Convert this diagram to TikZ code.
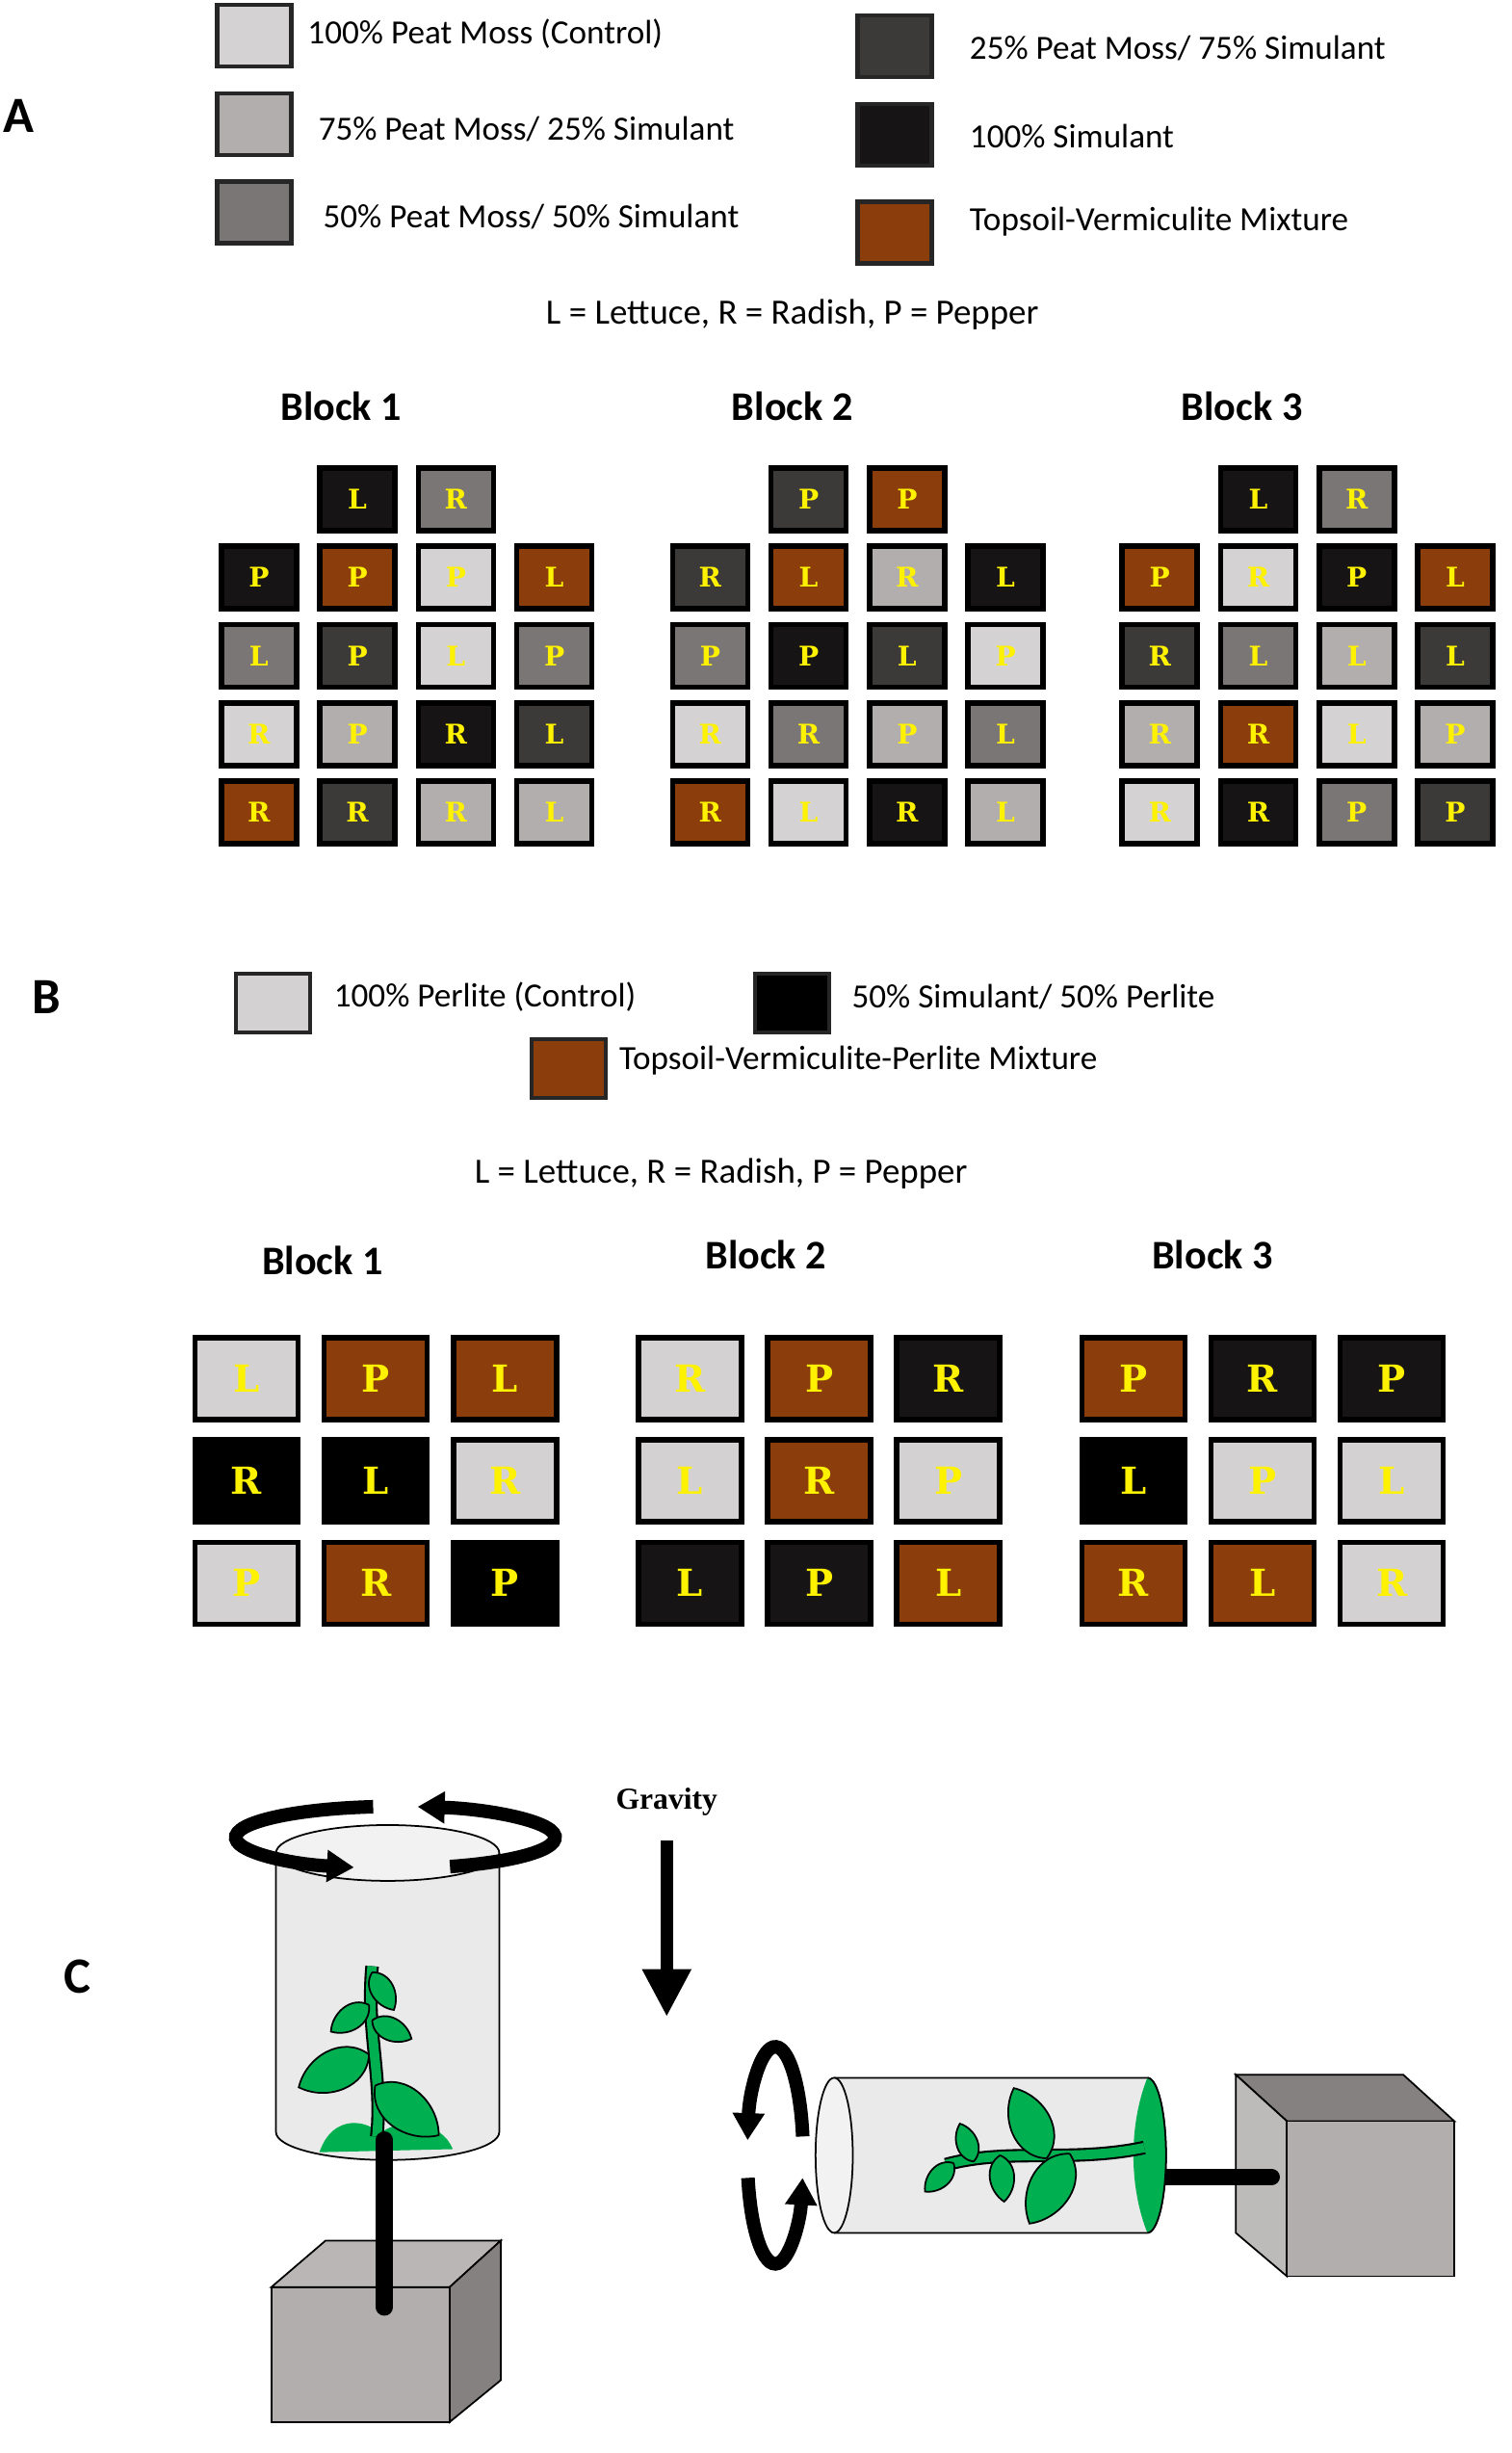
\documentclass[tikz,border=0pt]{standalone}
\usepackage{fontspec}
\setmainfont{Carlito}
\newfontfamily\cropfont{DejaVu Serif}
\newfontfamily\gravfont{Liberation Serif}
\usetikzlibrary{arrows.meta, positioning}

\definecolor{pmfull}{HTML}{D4D2D2}
\definecolor{pmthree}{HTML}{B2AEAE}
\definecolor{pmhalf}{HTML}{7B7676}
\definecolor{pmquart}{HTML}{3C3939}
\definecolor{simfull}{HTML}{161414}
\definecolor{topsoil}{HTML}{8B3D0B}
\definecolor{perlite}{HTML}{D3D1D1}
\definecolor{plantgreen}{HTML}{00B050}
\definecolor{tubegray}{HTML}{EBEAEA}

% leaf: base x, base y, direction, length
\newcommand\leafshape[4]{\draw[leaf, shift={(#1,#2)}, rotate=#3] (0,0) .. controls (0.2*#4,-0.38*#4) and (0.75*#4,-0.32*#4) .. (#4,0) .. controls (0.75*#4,0.32*#4) and (0.2*#4,0.38*#4) .. (0,0);}

\begin{document}
\begin{tikzpicture}[
            x = 0.0161cm, y = -0.0161cm, % displayed pixel units
            > = {Triangle[length=8pt, width=9pt]},
            swatch/.style = {draw = black!85, line width = 1.2pt, minimum width = 0.77cm, minimum height = 0.64cm, inner sep = 0pt},
            legtext/.style = {anchor = west, font = \fontsize{10}{12}\selectfont, inner sep = 0pt},
            blocktitle/.style = {font = \fontsize{12}{14}\bfseries},
            panel/.style = {font = \fontsize{15}{17}\bfseries},
            cellA/.style = {draw = black, line width = 1.6pt, minimum width = 0.78cm, minimum height = 0.65cm, inner sep = 0pt, text = yellow, font = \cropfont\bfseries\fontsize{8}{9}\selectfont},
            cellB/.style = {cellA, minimum width = 1.07cm, minimum height = 0.85cm, font = \cropfont\bfseries\fontsize{11}{12}\selectfont},
            leaf/.style = {fill = plantgreen, draw = black, line width = 0.5pt},
            ring/.style = {line width = 4pt, black}
        ]
        \useasboundingbox (0,0) rectangle (975,1582);

        % panel A legend
        \node[panel] (lblA) at (12,75) {A};
        \node[swatch, fill = pmfull] (sw1) at (164,23) {};
        \node[swatch, fill = pmthree] (sw2) at (164,80) {};
        \node[swatch, fill = pmhalf] (sw3) at (164,137) {};
        \node[swatch, fill = pmquart] (sw4) at (577,30) {};
        \node[swatch, fill = simfull] (sw5) at (577,87) {};
        \node[swatch, fill = topsoil] (sw6) at (577,150) {};
        \node[legtext] (lt1) at (198,22) {100\% Peat Moss (Control)};
        \node[legtext] (lt2) at (205,83) {75\% Peat Moss/ 25\% Simulant};
        \node[legtext] (lt3) at (208,140) {50\% Peat Moss/ 50\% Simulant};
        \node[legtext] (lt4) at (625,31) {25\% Peat Moss/ 75\% Simulant};
        \node[legtext] (lt5) at (625,88) {100\% Simulant};
        \node[legtext] (lt6) at (625,143) {Topsoil-Vermiculite Mixture};
        \node[font = \fontsize{10.5}{12}\selectfont] (keyA) at (511,203) {L = Lettuce, R = Radish, P = Pepper};

        % panel A blocks
        \foreach \b/\bx in {1/167, 2/458, 3/748}
            \node[blocktitle] (titleA\b) at (\bx+53,262) {Block \b};
        \foreach \b/\bx/\cells in {
            1/167/{1/0/simfull/L, 2/0/pmhalf/R,
                   0/1/simfull/P, 1/1/topsoil/P, 2/1/pmfull/P, 3/1/topsoil/L,
                   0/2/pmhalf/L, 1/2/pmquart/P, 2/2/pmfull/L, 3/2/pmhalf/P,
                   0/3/pmfull/R, 1/3/pmthree/P, 2/3/simfull/R, 3/3/pmquart/L,
                   0/4/topsoil/R, 1/4/pmquart/R, 2/4/pmthree/R, 3/4/pmthree/L},
            2/458/{1/0/pmquart/P, 2/0/topsoil/P,
                   0/1/pmquart/R, 1/1/topsoil/L, 2/1/pmthree/R, 3/1/simfull/L,
                   0/2/pmhalf/P, 1/2/simfull/P, 2/2/pmquart/L, 3/2/pmfull/P,
                   0/3/pmfull/R, 1/3/pmhalf/R, 2/3/pmthree/P, 3/3/pmhalf/L,
                   0/4/topsoil/R, 1/4/pmfull/L, 2/4/simfull/R, 3/4/pmthree/L},
            3/748/{1/0/simfull/L, 2/0/pmhalf/R,
                   0/1/topsoil/P, 1/1/pmfull/R, 2/1/simfull/P, 3/1/topsoil/L,
                   0/2/pmquart/R, 1/2/pmhalf/L, 2/2/pmthree/L, 3/2/pmquart/L,
                   0/3/pmthree/R, 1/3/topsoil/R, 2/3/pmfull/L, 3/3/pmthree/P,
                   0/4/pmfull/R, 1/4/simfull/R, 2/4/pmhalf/P, 3/4/pmquart/P}}
            \foreach \c/\r/\col/\crop in \cells
                \node[cellA, fill = \col] (a\b r\r c\c) at (\bx+63.5*\c, 322+50.5*\r) {\crop};

        % panel B legend
        \node[panel] (lblB) at (30,643) {B};
        \node[swatch, fill = perlite, minimum height = 0.61cm] (swB1) at (176,647) {};
        \node[swatch, fill = black, minimum height = 0.61cm] (swB2) at (511,647) {};
        \node[swatch, fill = topsoil, minimum height = 0.61cm] (swB3) at (367,689) {};
        \node[legtext] (ltB1) at (215,643) {100\% Perlite (Control)};
        \node[legtext] (ltB2) at (549,643) {50\% Simulant/ 50\% Perlite};
        \node[legtext] (ltB3) at (399,684) {Topsoil-Vermiculite-Perlite Mixture};
        \node[font = \fontsize{10.5}{12}\selectfont] (keyB) at (465,757) {L = Lettuce, R = Radish, P = Pepper};

        % panel B blocks
        \foreach \b/\tx/\ty in {1/208/813, 2/494/809, 3/782/809}
            \node[blocktitle] (titleB\b) at (\tx,\ty) {Block \b};
        \foreach \b/\bx/\cells in {
            1/159/{0/0/perlite/L, 1/0/topsoil/P, 2/0/topsoil/L,
                   0/1/black/R, 1/1/black/L, 2/1/perlite/R,
                   0/2/perlite/P, 1/2/topsoil/R, 2/2/black/P},
            2/445/{0/0/perlite/R, 1/0/topsoil/P, 2/0/simfull/R,
                   0/1/perlite/L, 1/1/topsoil/R, 2/1/perlite/P,
                   0/2/simfull/L, 1/2/simfull/P, 2/2/topsoil/L},
            3/731/{0/0/topsoil/P, 1/0/simfull/R, 2/0/simfull/P,
                   0/1/black/L, 1/1/perlite/P, 2/1/perlite/L,
                   0/2/topsoil/R, 1/2/topsoil/L, 2/2/perlite/R}}
            \foreach \c/\r/\col/\crop in \cells
                \node[cellB, fill = \col] (b\b r\r c\c) at (\bx+83.3*\c, 889+66*\r) {\crop};

        % panel C
        \node[panel] (lblC) at (50,1275) {C};
        \node[font = \gravfont\bfseries\fontsize{9}{10}\selectfont] (grav) at (430,1162) {Gravity};
        \fill (426,1187) rectangle (434,1272);
        \fill (414,1270) -- (446,1270) -- (430,1300) -- cycle;

        % upright clinostat
        \fill[fill = tubegray] (178,1195) -- (178,1375) arc[start angle=180, end angle=0, x radius=72, y radius=18] -- (322,1195);
        \fill[plantgreen] (206,1388) .. controls (215,1362) and (238,1368) .. (245,1376) .. controls (258,1365) and (285,1368) .. (292,1386) -- cycle;
        \draw[black, line width = 4pt] (243,1378) .. controls (247,1340) and (236,1310) .. (240,1268);
        \draw[plantgreen, line width = 2.8pt] (243,1378) .. controls (247,1340) and (236,1310) .. (240,1268);
        \leafshape{238}{1325}{205}{50}
        \leafshape{242}{1345}{-38}{52}
        \leafshape{238}{1293}{215}{30}
        \leafshape{240}{1303}{-25}{28}
        \leafshape{240}{1272}{-60}{28}
        \draw[line width = 0.5pt] (178,1195) -- (178,1375) arc[start angle=180, end angle=0, x radius=72, y radius=18] -- (322,1195);
        \draw[fill = tubegray!60!white, line width = 0.5pt] (250,1195) ellipse[x radius=72, y radius=18];
        \fill[pmthree] (175,1475) rectangle (290,1562);
        \fill[pmthree!90!white, draw = black, line width = 0.5pt] (175,1475) -- (210,1445) -- (323,1445) -- (290,1475) -- cycle;
        \fill[pmhalf!80!pmthree, draw = black, line width = 0.5pt] (290,1475) -- (323,1445) -- (323,1535) -- (290,1562) -- cycle;
        \draw[line width = 0.5pt] (175,1475) rectangle (290,1562);
        \draw[line width = 5pt, line cap = round] (248,1380) -- (248,1488);
        \draw[ring, ->] (255,1185) ++(70:103 and 20) arc[start angle=70, end angle=-82, x radius=103, y radius=20];
        \draw[ring, ->] (255,1185) ++(-98:103 and 20) arc[start angle=-98, end angle=-255, x radius=103, y radius=20];

        % horizontal clinostat
        \fill[pmhalf!80!pmthree, draw = black, line width = 0.5pt] (797,1338) -- (905,1338) -- (938,1368) -- (830,1368) -- cycle;
        \fill[pmthree!85!white, draw = black, line width = 0.5pt] (797,1338) -- (830,1368) -- (830,1468) -- (797,1440) -- cycle;
        \draw[fill = pmthree, line width = 0.5pt] (830,1368) rectangle (938,1468);
        \draw[line width = 5pt, line cap = round] (740,1404) -- (820,1404);
        \draw[fill = tubegray, line width = 0.5pt] (538,1340) -- (740,1340) arc[start angle=-90, end angle=90, x radius=12, y radius=50] -- (538,1440);
        \fill[plantgreen] (740,1340) arc[start angle=-90, end angle=90, x radius=12, y radius=50] .. controls (728,1410) and (728,1370) .. cycle;
        \draw[black, line width = 4pt] (738,1385) .. controls (690,1395) and (650,1385) .. (610,1396);
        \draw[plantgreen, line width = 2.8pt] (738,1385) .. controls (690,1395) and (650,1385) .. (610,1396);
        \leafshape{690}{1389}{240}{52}
        \leafshape{675}{1392}{115}{50}
        \leafshape{615}{1395}{225}{26}
        \leafshape{628}{1394}{110}{26}
        \leafshape{645}{1390}{-85}{30}
        \draw[line width = 0.5pt] (740,1340) arc[start angle=-90, end angle=90, x radius=12, y radius=50];
        \draw[fill = tubegray!60!white, line width = 0.5pt] (538,1390) ellipse[x radius=12, y radius=50];
        \draw[ring, ->] (500,1390) ++(-10:18 and 70) arc[start angle=-10, end angle=-172, x radius=18, y radius=70];
        \draw[ring, ->] (500,1390) ++(168:18 and 70) arc[start angle=168, end angle=12, x radius=18, y radius=70];
    \end{tikzpicture}
\end{document}
